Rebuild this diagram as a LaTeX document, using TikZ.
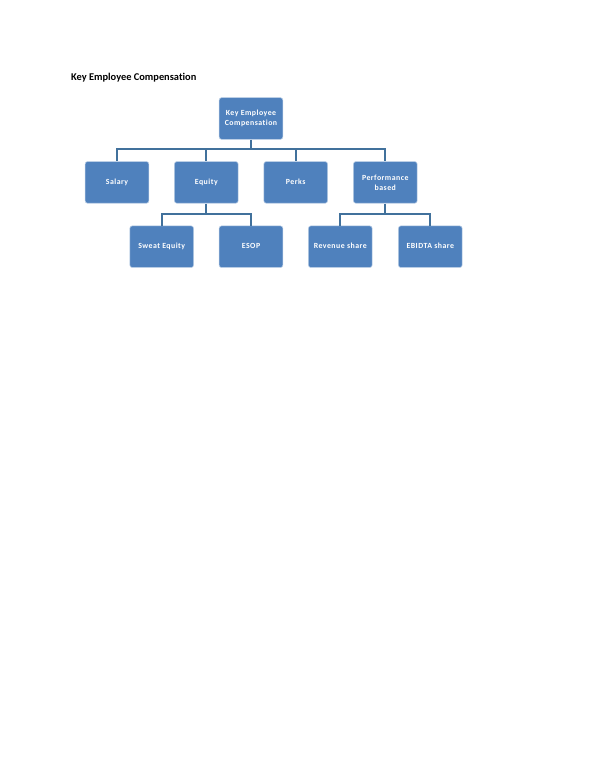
\documentclass[tikz,border=0pt]{standalone}
\usepackage{fontspec}
\setmainfont{Carlito}[Ligatures=NoCommon]
\definecolor{boxblue}{RGB}{79,129,189}
\definecolor{lineblue}{RGB}{65,113,156}
\definecolor{rimblue}{RGB}{185,205,229}
\usetikzlibrary{positioning}

\begin{document}
\begin{tikzpicture}[x=1.02pt,y=-1.02pt,
    orgbox/.style={draw=rimblue,fill=boxblue,rounded corners=2.5pt,line width=0.6pt,
      minimum width=65pt,minimum height=42.5pt,align=center,text=white,
      font=\bfseries\fontsize{8}{10}\selectfont\addfontfeature{LetterSpace=6}},
    link/.style={draw=lineblue,line width=1.8pt}]
        \useasboundingbox (0,0) rectangle (600,776);
        \node[font=\bfseries\fontsize{10.6}{12}\selectfont,anchor=base west,inner sep=0pt] (title) at (71,80) {Key Employee Compensation};
        % top level
        \node[orgbox] (root) at (251,118.5) {Key Employee\\Compensation};
        \node[orgbox] (salary) at (117,182.4) {Salary\strut};
        \node[orgbox] (equity) at (206.3,182.4) {Equity\strut};
        \node[orgbox] (perks) at (295.7,182.4) {Perks\strut};
        \node[orgbox] (perf) at (385.3,182.4) {Performance\\based};
        % second level
        \node[orgbox] (sweat) at (161.7,246.7) {Sweat Equity\strut};
        \node[orgbox] (esop) at (251,246.7) {ESOP\strut};
        \node[orgbox] (revenue) at (340.3,246.7) {Revenue share\strut};
        \node[orgbox] (ebidta) at (430.3,246.7) {EBIDTA share\strut};
        % connectors
        \coordinate (bar1) at (251,149.3);
        \coordinate (bar2) at (206.3,214);
        \coordinate (bar3) at (385.3,214);
        \draw[link] (root.south) -- (bar1);
        \foreach \n in {salary,equity,perks,perf} \draw[link] (bar1) -| (\n.north);
        \draw[link] (equity.south) -- (bar2);
        \foreach \n in {sweat,esop} \draw[link] (bar2) -| (\n.north);
        \draw[link] (perf.south) -- (bar3);
        \foreach \n in {revenue,ebidta} \draw[link] (bar3) -| (\n.north);
      \end{tikzpicture}
\end{document}
